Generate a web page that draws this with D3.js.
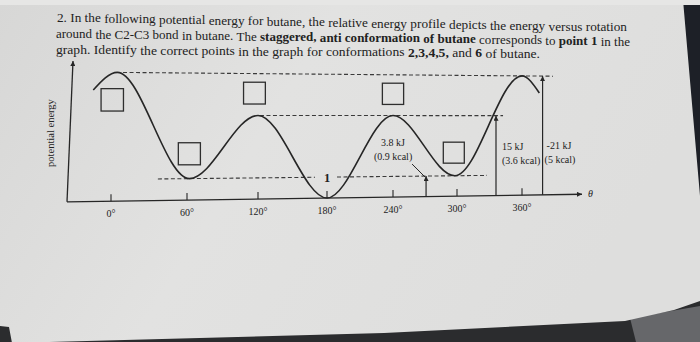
<!DOCTYPE html>
<html>
<head>
<meta charset="utf-8">
<script src="https://cdn.jsdelivr.net/npm/d3@7"></script>
<style>
  html, body { margin: 0; padding: 0; background: #27292c; }
  svg { display: block; }
  text { font-family: "Liberation Serif", "DejaVu Serif", serif; fill: #222; white-space: pre; }
</style>
</head>
<body>
<svg id="chart" width="700" height="342"></svg>
<script>
// rotation angle about the C2-C3 bond (deg) and relative energy (kJ)
const curveAngles = [-14, 5, 62, 120, 180, 240, 298, 360, 376];
const curveEnergies = [19.4, 22.5, 3.8, 15, 0, 15, 3.8, 22.5, 19.3];

const tickAngles = [0, 60, 120, 180, 240, 300, 360];
const tickLabels = ["0°", "60°", "120°", "180°", "240°", "300°", "360°"];

// empty answer boxes (conformations 2-6)
const boxAngles = [1, 62, 117, 240, 297];
const boxEnergies = [17.7, 8.2, 19.0, 19.0, 8.1];

// dashed reference levels and the angle spans they cover
const levelEnergies = [22.5, 15, 3.8];
const levelSpans = [[[9.5, 388.6]], [[121.7, 342.5]], [[37, 169.6], [189.1, 327.7]]];

const arrowAngles = [271, 336, 379];
const arrowEnergies = [3.8, 15, 22.5];
const arrowTopLabels = ["3.8 kJ", "15 kJ", "-21 kJ"];
const arrowBottomLabels = ["(0.9 kcal)", "(3.6 kcal)", "(5 kcal)"];

const pointAngle = 180;
const pointEnergy = 3.8;
const pointLabel = "1";

const titleLines = [
  [["2. In the following potential energy for butane, the relative energy profile depicts the energy versus rotation", false]],
  [["around the C2-C3 bond in butane.  The", false], ["staggered, anti conformation of butane", true],
   ["corresponds to", false], ["point 1", true], ["in the", false]],
  [["graph.  Identify the correct points in the graph for conformations", false], ["2,3,4,5,", true],
   ["and", false], ["6", true], ["of butane.", false]]
];

const svg = d3.select("#chart");
const W = 700, H = 342;

// ---- photo backdrop: paper sheet on a dark desk ----
const defs = svg.append("defs");
const grad = defs.append("linearGradient").attr("id", "paper")
  .attr("x1", "0").attr("y1", "0").attr("x2", "1").attr("y2", "0.3");
grad.append("stop").attr("offset", "0").attr("stop-color", "#d7d7d6");
grad.append("stop").attr("offset", "0.45").attr("stop-color", "#e2e2e1");
grad.append("stop").attr("offset", "1").attr("stop-color", "#dededd");

svg.append("rect").attr("width", W).attr("height", H).attr("fill", "#2b2c2e");
svg.append("path")
  .attr("d", "M630,318 L700,306 L700,342 L636,342 Z")
  .attr("fill", "#66676a");
svg.append("path")
  .attr("d", "M683,0 L700,0 L700,200 Z")
  .attr("fill", "#1d2027");
svg.append("path")
  .attr("d", "M0,0 L683,0 L700,196 L700,301 L674,310 L625,321 L384,333 L12,343 L9,327 L0,326 Z")
  .attr("fill", "url(#paper)");
svg.append("rect").attr("width", W).attr("height", 5).attr("fill", "#e6e6e5");

// ---- title: words laid along each slightly sloping line ----
const titleStarts = [[57, 22], [56, 38], [56, 54]];
const titleEnds = [[627, 32], [630, 46], [540, 58]];
const titleSize = 12.5;

const probe = svg.append("text").style("font-size", titleSize + "px").text(" ");
const spaceW = probe.node().getComputedTextLength();

titleLines.forEach((segs, i) => {
  const [x0, y0] = titleStarts[i], [x1, y1] = titleEnds[i];
  const words = [];
  segs.forEach(([s, b]) => s.split(/ +/).forEach(w => words.push({ w, b })));
  words.forEach(d => {
    probe.style("font-weight", d.b ? "bold" : "normal").text(d.w);
    d.len = probe.node().getComputedTextLength();
  });
  const natural = d3.sum(words, d => d.len) + spaceW * (words.length - 1);
  const k = (x1 - x0) / natural;
  let cum = 0;
  words.forEach(d => {
    const wx = x0 + cum * k;
    const wy = y0 + (y1 - y0) * (wx - x0) / (x1 - x0);
    svg.append("text")
      .attr("transform", `translate(${wx},${wy}) scale(${k},1)`)
      .style("font-size", titleSize + "px")
      .style("font-weight", d.b ? "bold" : "normal")
      .text(d.w);
    cum += d.len + spaceW;
  });
});
probe.remove();

// ---- scales (photo is slightly tilted and in perspective) ----
const x = d3.scaleLinear().domain(tickAngles).range([111, 187, 258, 327, 393, 457, 522]);
const h = d3.scaleLinear().domain([0, 22.5]).range([0, 123.75]);
const baseY = px => 198 - (px - 330) * 0.0148;
const persp = px => 1 - (px - 330) * 0.00019;
const py = (a, e) => { const xx = x(a); return baseY(xx) - h(e) * persp(xx); };

const ink = "#262626";

defs.append("marker").attr("id", "head")
  .attr("viewBox", "0 0 10 10").attr("refX", 10).attr("refY", 5)
  .attr("markerWidth", 7).attr("markerHeight", 5)
  .attr("markerUnits", "userSpaceOnUse").attr("orient", "auto")
  .append("path").attr("d", "M0,0 L10,5 L0,10 Z").attr("fill", ink);

const g = svg.append("g");

// axes
const axisLeft = 67, axisRight = 582;
g.append("line")
  .attr("x1", axisLeft).attr("y1", baseY(axisLeft))
  .attr("x2", axisRight).attr("y2", baseY(axisRight))
  .attr("stroke", ink).attr("stroke-width", 1.4)
  .attr("marker-end", "url(#head)");
g.append("line")
  .attr("x1", axisLeft).attr("y1", baseY(axisLeft))
  .attr("x2", 73).attr("y2", 61)
  .attr("stroke", ink).attr("stroke-width", 1.3)
  .attr("marker-end", "url(#head)");

g.append("text")
  .attr("x", axisRight + 6).attr("y", baseY(axisRight) + 3)
  .style("font-size", "10px").style("font-style", "italic")
  .text("θ");

g.append("text")
  .attr("transform", "translate(54,133) rotate(-90)")
  .attr("text-anchor", "middle")
  .style("font-size", "10.5px")
  .text("potential energy");

// ticks
g.selectAll(".tick").data(tickAngles).join("line")
  .attr("class", "tick")
  .attr("x1", d => x(d)).attr("x2", d => x(d))
  .attr("y1", d => baseY(x(d))).attr("y2", d => baseY(x(d)) - 7)
  .attr("stroke", ink).attr("stroke-width", 1.1);

g.selectAll(".tick-label").data(tickAngles).join("text")
  .attr("class", "tick-label")
  .attr("x", d => x(d)).attr("y", d => baseY(x(d)) + 16)
  .attr("text-anchor", "middle")
  .style("font-size", "10px")
  .text((d, i) => tickLabels[i]);

// dashed levels
levelEnergies.forEach((e, i) => {
  levelSpans[i].forEach(([a0, a1]) => {
    g.append("line")
      .attr("x1", x(a0)).attr("y1", py(a0, e))
      .attr("x2", x(a1)).attr("y2", py(a1, e))
      .attr("stroke", "#3a3a3a").attr("stroke-width", 1.1)
      .attr("stroke-dasharray", "4,2.5");
  });
});

// energy profile
const pts = curveAngles.map((a, i) => [a, curveEnergies[i]]);
g.append("path")
  .datum(pts)
  .attr("fill", "none").attr("stroke", ink).attr("stroke-width", 1.6)
  .attr("d", d3.line().x(d => x(d[0])).y(d => py(d[0], d[1])).curve(d3.curveMonotoneX));

// point 1 label
g.append("text")
  .attr("x", x(pointAngle)).attr("y", py(pointAngle, pointEnergy) + 4.5)
  .attr("text-anchor", "middle")
  .style("font-size", "12.5px").style("font-weight", "bold")
  .text(pointLabel);

// answer boxes
g.selectAll(".box").data(boxAngles).join("rect")
  .attr("class", "box")
  .each(function (a, i) {
    const s = 21.5 * persp(x(a));
    d3.select(this)
      .attr("x", x(a) - s / 2).attr("y", py(a, boxEnergies[i]) - s / 2)
      .attr("width", s).attr("height", s);
  })
  .attr("fill", "none").attr("stroke", "#2e2e2e").attr("stroke-width", 1.3);

// energy-gap arrows
g.selectAll(".gap").data(arrowAngles).join("line")
  .attr("class", "gap")
  .attr("x1", d => x(d)).attr("y1", d => baseY(x(d)))
  .attr("x2", d => x(d)).attr("y2", (d, i) => py(d, arrowEnergies[i]))
  .attr("stroke", ink).attr("stroke-width", 1.2)
  .attr("marker-end", "url(#head)");

// arrow labels
const labelDx = [-33, 6, 4];
const labelAnchor = ["middle", "start", "start"];
const labelUp = [51, 46, 46];
arrowAngles.forEach((a, i) => {
  const ax = x(a), by = baseY(ax);
  g.append("text")
    .attr("x", ax + labelDx[i]).attr("y", by - labelUp[i])
    .attr("text-anchor", labelAnchor[i])
    .style("font-size", "10px")
    .text(arrowTopLabels[i]);
  g.append("text")
    .attr("x", ax + labelDx[i] + (i === 2 ? -2 : 0)).attr("y", by - labelUp[i] + 14)
    .attr("text-anchor", labelAnchor[i])
    .style("font-size", "10px")
    .text(arrowBottomLabels[i]);
});

// leader from the 3.8 kJ label to its arrow
const lx = x(arrowAngles[0]), ly = py(arrowAngles[0], arrowEnergies[0]);
g.append("line")
  .attr("x1", lx - 14).attr("y1", ly - 12)
  .attr("x2", lx - 1).attr("y2", ly + 1)
  .attr("stroke", ink).attr("stroke-width", 1);
</script>
</body>
</html>
